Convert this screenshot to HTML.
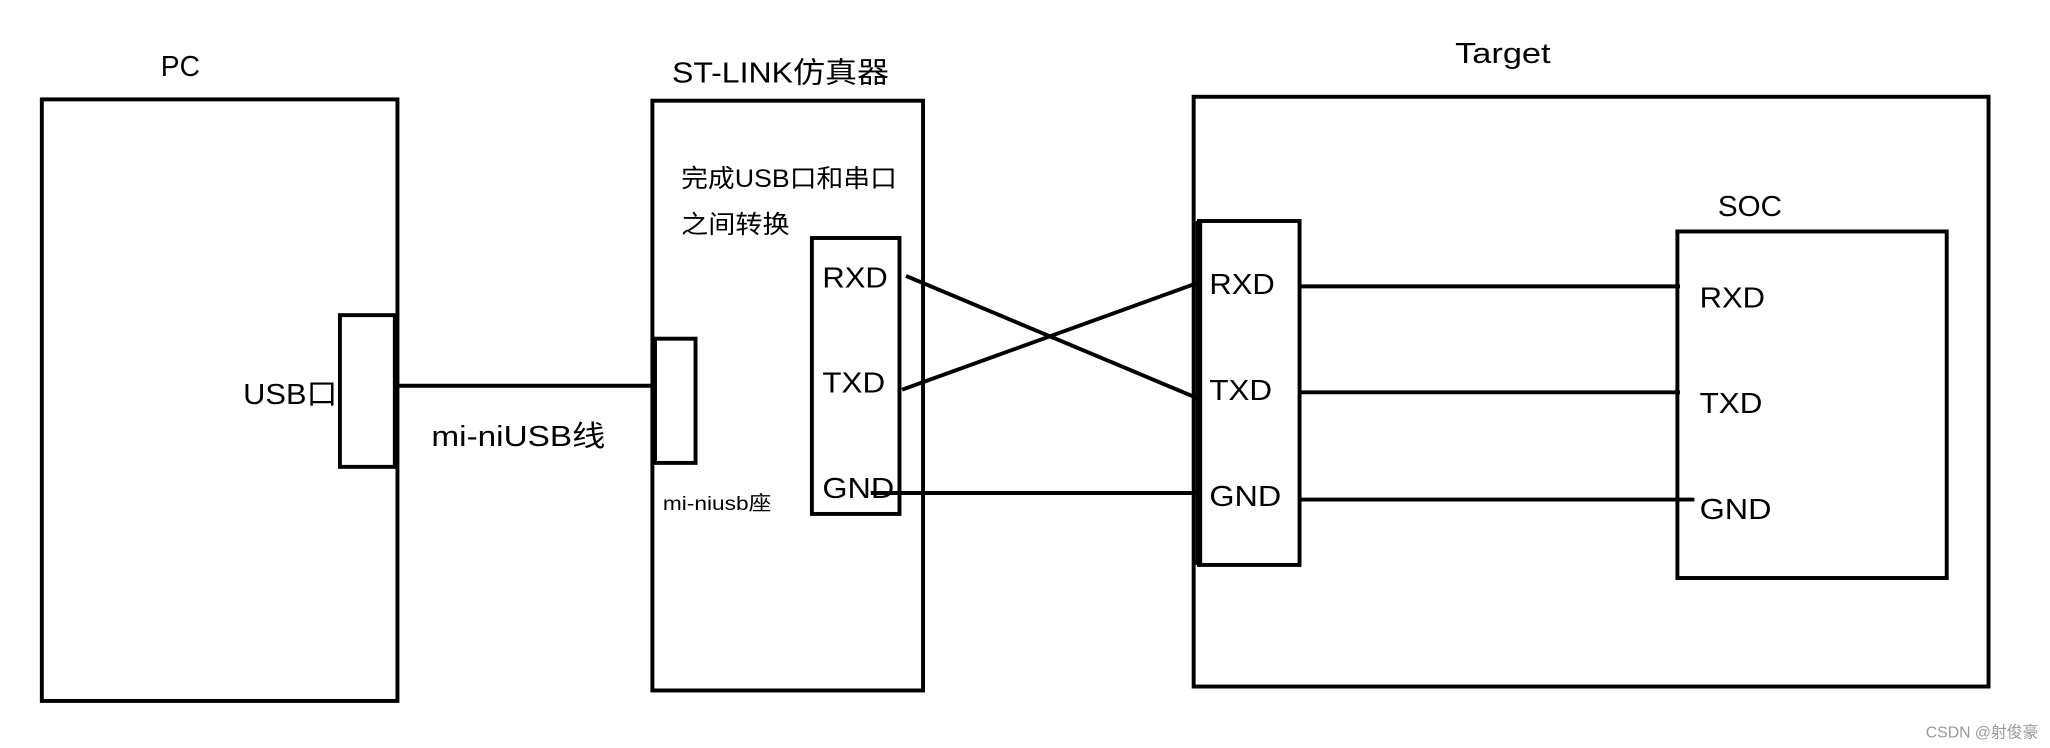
<!DOCTYPE html>
<html><head><meta charset="utf-8"><style>
html,body{margin:0;padding:0;background:#fff;}
svg{display:block;}
text{font-family:"Liberation Sans","Noto Sans CJK SC",sans-serif;fill:#000;}
</style></head><body>
<svg width="2050" height="748" viewBox="0 0 1568 572" preserveAspectRatio="none" xmlns="http://www.w3.org/2000/svg">
<g fill="none" stroke="#000" stroke-width="3">
<rect x="32" y="76" width="272" height="460"/>
<rect x="260" y="241" width="42" height="116" fill="#fff"/>
<line x1="304" y1="295" x2="500" y2="295"/>
<rect x="499" y="77" width="207" height="451"/>
<rect x="501" y="259" width="31" height="95" fill="#fff"/>
<rect x="621" y="182" width="67" height="211"/>
<rect x="913" y="74" width="608" height="451"/>
<rect x="917" y="169" width="77" height="263"/>
<line x1="917" y1="169" x2="917" y2="432" stroke-width="5"/>
<rect x="1283" y="177" width="206" height="265"/>
<line x1="693" y1="211" x2="917" y2="305"/>
<line x1="690" y1="298" x2="917" y2="216"/>
<line x1="666" y1="377" x2="917" y2="377"/>
<line x1="994" y1="219" x2="1285" y2="219"/>
<line x1="994" y1="300" x2="1285" y2="300"/>
<line x1="994" y1="382" x2="1296" y2="382"/>
</g>
<g font-size="22" lengthAdjust="spacingAndGlyphs">
<text x="123" y="58" textLength="30" lengthAdjust="spacingAndGlyphs">PC</text>
<text x="186" y="309" textLength="72" lengthAdjust="spacingAndGlyphs">USB口</text>
<text x="330" y="341" textLength="133" lengthAdjust="spacingAndGlyphs">mi-niUSB线</text>
<text x="514" y="63" textLength="166" lengthAdjust="spacingAndGlyphs">ST-LINK仿真器</text>
<text x="1113" y="48" textLength="73" lengthAdjust="spacingAndGlyphs">Target</text>
<text x="1314" y="165" textLength="49" lengthAdjust="spacingAndGlyphs">SOC</text>
<text x="629" y="220" textLength="50" lengthAdjust="spacingAndGlyphs">RXD</text>
<text x="629" y="300" textLength="48" lengthAdjust="spacingAndGlyphs">TXD</text>
<text x="629" y="381" textLength="55" lengthAdjust="spacingAndGlyphs">GND</text>
<text x="925" y="225" textLength="50" lengthAdjust="spacingAndGlyphs">RXD</text>
<text x="925" y="306" textLength="48" lengthAdjust="spacingAndGlyphs">TXD</text>
<text x="925" y="387" textLength="55" lengthAdjust="spacingAndGlyphs">GND</text>
<text x="1300" y="235" textLength="50" lengthAdjust="spacingAndGlyphs">RXD</text>
<text x="1300" y="316" textLength="48" lengthAdjust="spacingAndGlyphs">TXD</text>
<text x="1300" y="397" textLength="55" lengthAdjust="spacingAndGlyphs">GND</text>
</g>
<text x="521" y="143" font-size="19" textLength="165" lengthAdjust="spacingAndGlyphs">完成USB口和串口</text>
<text x="521" y="178" font-size="19" textLength="83" lengthAdjust="spacingAndGlyphs">之间转换</text>
<text x="507" y="390" font-size="15" textLength="83" lengthAdjust="spacingAndGlyphs">mi-niusb座</text>
<text x="1473" y="564" font-size="12" textLength="86" lengthAdjust="spacingAndGlyphs" style="fill:#999">CSDN @射俊豪</text>
</svg>
</body></html>
